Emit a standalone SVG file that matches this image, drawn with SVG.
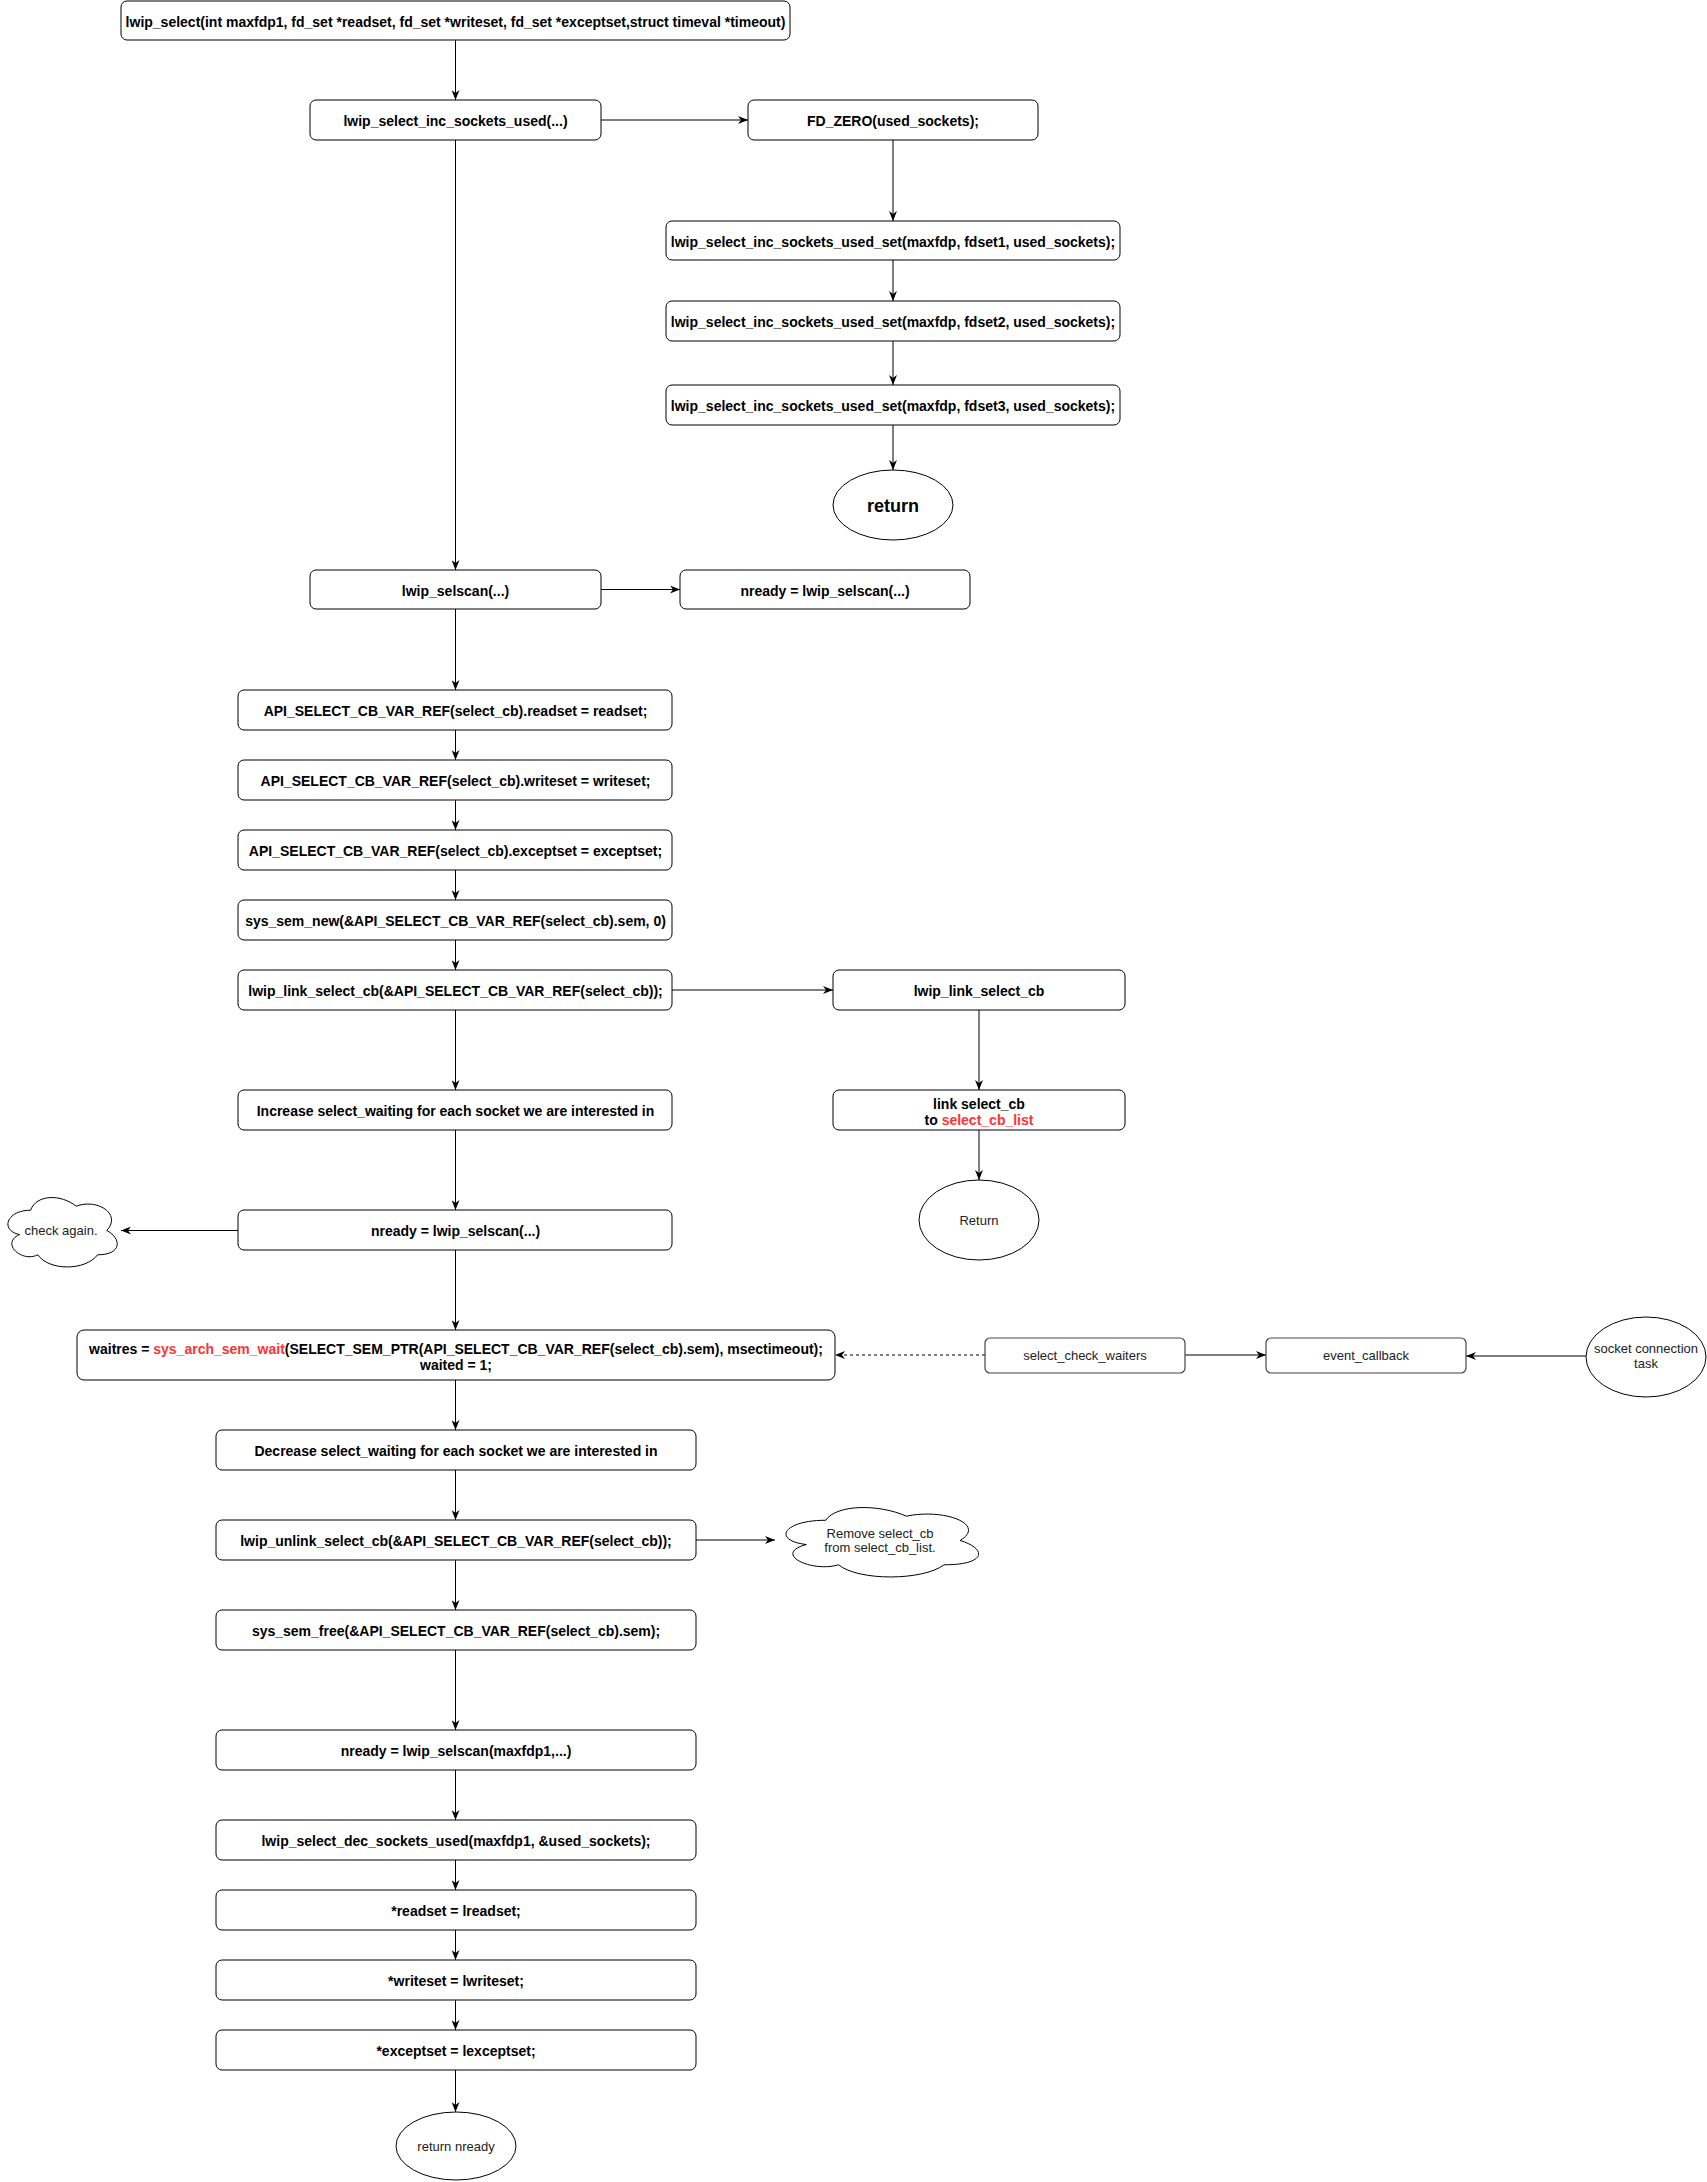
<svg xmlns="http://www.w3.org/2000/svg" width="1707" height="2182" viewBox="0 0 1707 2182">
<style>
.bx{fill:#fff;stroke:#000;stroke-width:1}
.gb{fill:#fff;stroke:#444;stroke-width:1.2}
.t{font-family:"Liberation Sans",Arial,sans-serif;font-size:14px;font-weight:bold;fill:#000;text-anchor:middle}
.n{font-family:"Liberation Sans",Arial,sans-serif;font-size:13px;fill:#222;text-anchor:middle}
.big{font-size:18px}
.red{fill:#ff3333}
.c{fill:none;stroke:#000;stroke-width:1;marker-end:url(#a)}
.d{stroke-dasharray:3 3}
</style>
<defs>
<marker id="a" viewBox="0 0 10 8" refX="10" refY="4" markerWidth="10" markerHeight="8" markerUnits="userSpaceOnUse" orient="auto">
<path d="M0,0 L10,4 L0,8 L3,4 Z" fill="#000"/>
</marker>
</defs>
<rect width="1707" height="2182" fill="#fff"/>
<g id="connectors">
<path class="c" d="M455.5,40 V100"/>
<path class="c" d="M601,120 H748"/>
<path class="c" d="M893,140 V221"/>
<path class="c" d="M893,260 V301"/>
<path class="c" d="M893,341 V385"/>
<path class="c" d="M893,425 V470"/>
<path class="c" d="M455.5,140 V570"/>
<path class="c" d="M601,589.5 H680"/>
<path class="c" d="M455.5,609 V690"/>
<path class="c" d="M455.5,730 V760"/>
<path class="c" d="M455.5,800 V830"/>
<path class="c" d="M455.5,870 V900"/>
<path class="c" d="M455.5,940 V970"/>
<path class="c" d="M672,990 H833"/>
<path class="c" d="M979,1010 V1090"/>
<path class="c" d="M979,1130 V1180"/>
<path class="c" d="M455.5,1010 V1090"/>
<path class="c" d="M455.5,1130 V1210"/>
<path class="c" d="M238,1230.5 H121"/>
<path class="c" d="M455.5,1250 V1330"/>
<path class="c d" d="M985,1355 H835"/>
<path class="c" d="M1185,1355 H1266"/>
<path class="c" d="M1586,1356 H1466"/>
<path class="c" d="M455.5,1380 V1430"/>
<path class="c" d="M455.5,1470 V1520"/>
<path class="c" d="M696,1540 H775"/>
<path class="c" d="M455.5,1560 V1610"/>
<path class="c" d="M455.5,1650 V1730"/>
<path class="c" d="M455.5,1770 V1820"/>
<path class="c" d="M455.5,1860 V1890"/>
<path class="c" d="M455.5,1930 V1960"/>
<path class="c" d="M455.5,2000 V2030"/>
<path class="c" d="M455.5,2070 V2112"/>
</g>
<g id="n-lwip-select"><rect class="bx" x="121" y="1" width="669" height="39" rx="6"/><text class="t" x="455.5" y="26.5">lwip_select(int maxfdp1, fd_set *readset, fd_set *writeset, fd_set *exceptset,struct timeval *timeout)</text></g>
<g id="n-inc-used"><rect class="bx" x="310" y="100" width="291" height="40" rx="6"/><text class="t" x="455.5" y="126">lwip_select_inc_sockets_used(...)</text></g>
<g id="n-fdzero"><rect class="bx" x="748" y="100" width="290" height="40" rx="6"/><text class="t" x="893" y="126">FD_ZERO(used_sockets);</text></g>
<g id="n-set1"><rect class="bx" x="666" y="221" width="454" height="39" rx="6"/><text class="t" x="893" y="246.5">lwip_select_inc_sockets_used_set(maxfdp, fdset1, used_sockets);</text></g>
<g id="n-set2"><rect class="bx" x="666" y="301" width="454" height="40" rx="6"/><text class="t" x="893" y="327">lwip_select_inc_sockets_used_set(maxfdp, fdset2, used_sockets);</text></g>
<g id="n-set3"><rect class="bx" x="666" y="385" width="454" height="40" rx="6"/><text class="t" x="893" y="411">lwip_select_inc_sockets_used_set(maxfdp, fdset3, used_sockets);</text></g>
<g id="n-return1"><ellipse class="bx" cx="893" cy="505" rx="60" ry="35"/><text class="t big" x="893" y="511.5">return</text></g>
<g id="n-selscan"><rect class="bx" x="310" y="570" width="291" height="39" rx="6"/><text class="t" x="455.5" y="595.5">lwip_selscan(...)</text></g>
<g id="n-nready1"><rect class="bx" x="680" y="570" width="290" height="39" rx="6"/><text class="t" x="825" y="595.5">nready = lwip_selscan(...)</text></g>
<g id="n-readset-cb"><rect class="bx" x="238" y="690" width="434" height="40" rx="6"/><text class="t" x="455.5" y="716">API_SELECT_CB_VAR_REF(select_cb).readset = readset;</text></g>
<g id="n-writeset-cb"><rect class="bx" x="238" y="760" width="434" height="40" rx="6"/><text class="t" x="455.5" y="786">API_SELECT_CB_VAR_REF(select_cb).writeset = writeset;</text></g>
<g id="n-exceptset-cb"><rect class="bx" x="238" y="830" width="434" height="40" rx="6"/><text class="t" x="455.5" y="856">API_SELECT_CB_VAR_REF(select_cb).exceptset = exceptset;</text></g>
<g id="n-sem-new"><rect class="bx" x="238" y="900" width="434" height="40" rx="6"/><text class="t" x="455.5" y="926">sys_sem_new(&amp;API_SELECT_CB_VAR_REF(select_cb).sem, 0)</text></g>
<g id="n-link"><rect class="bx" x="238" y="970" width="434" height="40" rx="6"/><text class="t" x="455.5" y="996">lwip_link_select_cb(&amp;API_SELECT_CB_VAR_REF(select_cb));</text></g>
<g id="n-link-fn"><rect class="bx" x="833" y="970" width="292" height="40" rx="6"/><text class="t" x="979" y="996">lwip_link_select_cb</text></g>
<g id="n-link-list"><rect class="bx" x="833" y="1090" width="292" height="40" rx="6"/><text class="t" x="979" y="1108.5">link select_cb</text><text class="t" x="979" y="1124.5">to <tspan class="red">select_cb_list</tspan></text></g>
<g id="n-return2"><ellipse class="bx" cx="979" cy="1220" rx="60" ry="40"/><text class="n" x="979" y="1224.5">Return</text></g>
<g id="n-increase"><rect class="bx" x="238" y="1090" width="434" height="40" rx="6"/><text class="t" x="455.5" y="1116">Increase select_waiting for each socket we are interested in</text></g>
<g id="n-nready2"><rect class="bx" x="238" y="1210" width="434" height="40" rx="6"/><text class="t" x="455.5" y="1236">nready = lwip_selscan(...)</text></g>
<g id="n-check-again"><path class="bx" d="M30.5,1210.25 C6.1,1210.25 0,1230.5 19.52,1234.55 C0,1243.46 21.96,1262.9 37.82,1254.8 C48.8,1271 85.4,1271 97.6,1254.8 C122,1254.8 122,1238.6 106.75,1230.5 C122,1214.3 97.6,1198.1 76.25,1206.2 C61,1194.05 36.6,1194.05 30.5,1210.25 Z"/><text class="n" x="61" y="1235">check again.</text></g>
<g id="n-waitres"><rect class="bx" x="77" y="1330" width="758" height="50" rx="7"/><text class="t" x="456" y="1353.5">waitres = <tspan class="red">sys_arch_sem_wait</tspan>(SELECT_SEM_PTR(API_SELECT_CB_VAR_REF(select_cb).sem), msectimeout);</text><text class="t" x="456" y="1369.5">waited = 1;</text></g>
<g id="n-check-waiters"><rect class="gb" x="985" y="1338" width="200" height="35" rx="5"/><text class="n" x="1085" y="1360">select_check_waiters</text></g>
<g id="n-event-callback"><rect class="gb" x="1266" y="1338" width="200" height="35" rx="5"/><text class="n" x="1366" y="1360">event_callback</text></g>
<g id="n-socket-task"><ellipse class="bx" cx="1646" cy="1357" rx="60" ry="40"/><text class="n" x="1646" y="1353">socket connection</text><text class="n" x="1646" y="1368">task</text></g>
<g id="n-decrease"><rect class="bx" x="216" y="1430" width="480" height="40" rx="6"/><text class="t" x="456" y="1456">Decrease select_waiting for each socket we are interested in</text></g>
<g id="n-unlink"><rect class="bx" x="216" y="1520" width="480" height="40" rx="6"/><text class="t" x="456" y="1546">lwip_unlink_select_cb(&amp;API_SELECT_CB_VAR_REF(select_cb));</text></g>
<g id="n-remove"><path class="bx" d="M825.75,1520.25 C782.75,1520.25 772,1540.5 806.4,1544.55 C772,1553.46 810.7,1572.9 838.65,1564.8 C858,1581 922.5,1581 944,1564.8 C987,1564.8 987,1548.6 960.125,1540.5 C987,1524.3 944,1508.1 906.375,1516.2 C879.5,1504.05 836.5,1504.05 825.75,1520.25 Z"/><text class="n" x="880" y="1537.5">Remove select_cb</text><text class="n" x="880" y="1551.5">from select_cb_list.</text></g>
<g id="n-sem-free"><rect class="bx" x="216" y="1610" width="480" height="40" rx="6"/><text class="t" x="456" y="1636">sys_sem_free(&amp;API_SELECT_CB_VAR_REF(select_cb).sem);</text></g>
<g id="n-nready3"><rect class="bx" x="216" y="1730" width="480" height="40" rx="6"/><text class="t" x="456" y="1756">nready = lwip_selscan(maxfdp1,...)</text></g>
<g id="n-dec-used"><rect class="bx" x="216" y="1820" width="480" height="40" rx="6"/><text class="t" x="456" y="1846">lwip_select_dec_sockets_used(maxfdp1, &amp;used_sockets);</text></g>
<g id="n-readset"><rect class="bx" x="216" y="1890" width="480" height="40" rx="6"/><text class="t" x="456" y="1916">*readset = lreadset;</text></g>
<g id="n-writeset"><rect class="bx" x="216" y="1960" width="480" height="40" rx="6"/><text class="t" x="456" y="1986">*writeset = lwriteset;</text></g>
<g id="n-exceptset"><rect class="bx" x="216" y="2030" width="480" height="40" rx="6"/><text class="t" x="456" y="2056">*exceptset = lexceptset;</text></g>
<g id="n-return-nready"><ellipse class="bx" cx="456" cy="2146" rx="60" ry="34"/><text class="n" x="456" y="2150.5">return nready</text></g>
</svg>
